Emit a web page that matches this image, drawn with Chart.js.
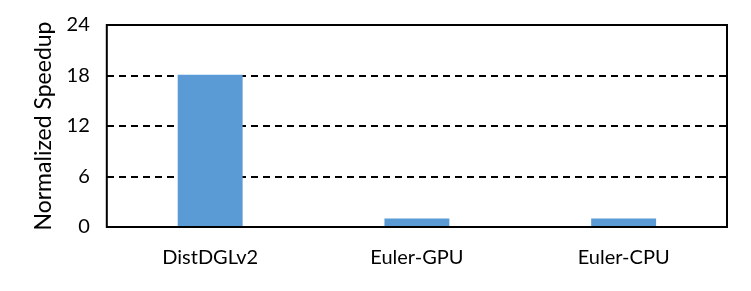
<!DOCTYPE html>
<html>
<head>
<meta charset="utf-8">
<script src="https://cdn.jsdelivr.net/npm/chart.js@4.4.0/dist/chart.umd.min.js"></script>
<style>
  html, body { margin: 0; padding: 0; background: #fff; }
  #wrap { width: 751px; height: 291px; }
</style>
</head>
<body>
<div id="wrap"><canvas id="speedupChart" width="751" height="291"></canvas></div>
<script>
    // dữ liệu
    var systems = ['DistDGLv2', 'Euler-GPU', 'Euler-CPU'];
    var speedup = [18.1, 1, 1];
    var yTicks = [0, 6, 12, 18, 24];

    // khung viền quanh vùng vẽ
    var frameBox = {
        id: 'frameBox',
        afterDraw: function (chart) {
            var a = chart.chartArea, c = chart.ctx;
            c.save();
            c.strokeStyle = '#000';
            c.lineWidth = 2;
            c.setLineDash([]);
            c.strokeRect(a.left, a.top, a.right - a.left, a.bottom - a.top);
            c.restore();
        }
    };

    var ctx = document.getElementById('speedupChart').getContext('2d');
    var speedupChart = new Chart(ctx, {
        type: 'bar',
        data: {
            labels: systems,
            datasets: [{
                label: 'Normalized Speedup',
                data: speedup,
                backgroundColor: '#5B9BD5',
                borderWidth: 0,
                barPercentage: 0.314,
                categoryPercentage: 1
            }]
        },
        options: {
            responsive: false,
            animation: false,
            layout: { padding: { top: 25, right: 24, left: 30, bottom: 2 } },
            plugins: { legend: { display: false }, tooltip: { enabled: false } },
            scales: {
                x: {
                    grid: { display: false, drawTicks: false },
                    border: { display: false },
                    ticks: { color: '#000', padding: 19, font: { family: 'Lato', size: 20 } }
                },
                y: {
                    min: 0,
                    max: 24,
                    afterBuildTicks: function (axis) {
                        axis.ticks = yTicks.map(function (v) { return { value: v }; });
                    },
                    afterFit: function (scale) {
                        scale.paddingTop = 0;
                        scale.paddingBottom = 0;
                    },
                    grid: {
                        color: '#000',
                        lineWidth: 2,
                        drawTicks: false
                    },
                    border: { display: false, dash: [7, 5] },
                    ticks: { color: '#000', padding: 17, font: { family: 'Lato', size: 20 } },
                    title: {
                        display: true,
                        text: 'Normalized Speedup',
                        color: '#000',
                        font: { family: 'Lato', size: 23 },
                        padding: { top: 0, bottom: -8 }
                    }
                }
            }
        },
        plugins: [frameBox]
    });
</script>
</body>
</html>
